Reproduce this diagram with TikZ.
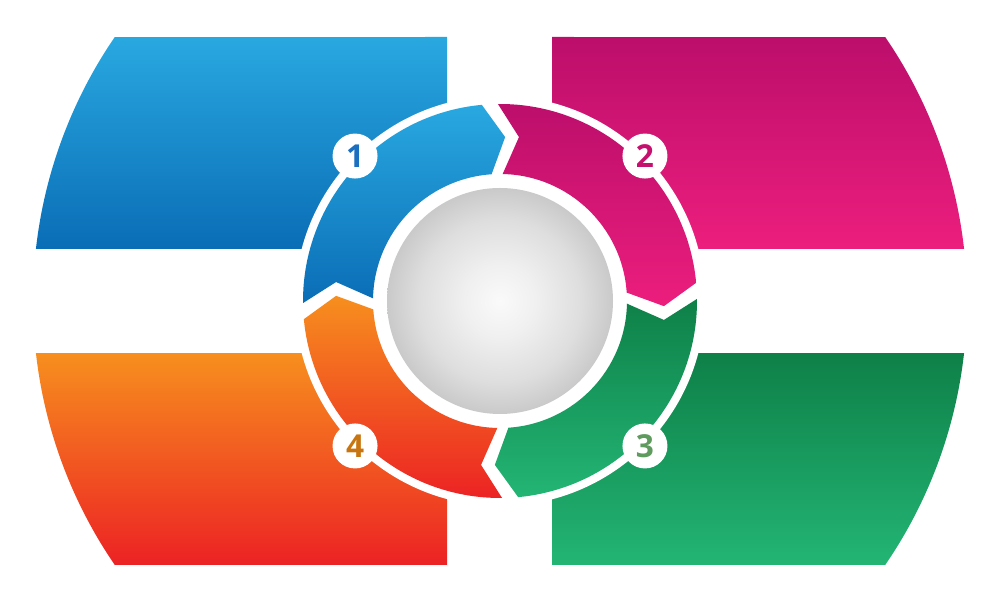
\documentclass[tikz,border=0pt]{standalone}
\usepackage{fontspec}
\newfontfamily\numfont{Open Sans}
\definecolor{bluetop}{HTML}{29A8E0}
\definecolor{bluebot}{HTML}{0A6DB6}
\definecolor{magtop}{HTML}{BC0E6B}
\definecolor{magbot}{HTML}{EC1E7D}
\definecolor{orgtop}{HTML}{F78F1E}
\definecolor{orgbot}{HTML}{EC2224}
\definecolor{grntop}{HTML}{0E8048}
\definecolor{grnbot}{HTML}{23B574}
\definecolor{numblue}{HTML}{1A6FC0}
\definecolor{nummag}{HTML}{C5106F}
\definecolor{numgrn}{HTML}{5F9A5F}
\definecolor{numorg}{HTML}{C87510}
\pgfdeclareradialshading{spheregray}{\pgfpoint{0bp}{0bp}}{%
  color(0bp)=(white!98!black); color(8bp)=(white!94!black);
  color(18bp)=(white!87!black); color(25bp)=(white!79!black);
  color(50bp)=(white!79!black)}
\tikzset{
  numc/.style={circle, fill=white, minimum size=13.5mm, inner sep=0pt,
    font=\numfont\bfseries\fontsize{27}{27}\selectfont},
}
\begin{document}
\begin{tikzpicture}[x=0.3mm,y=0.3mm]
\useasboundingbox (0,0) rectangle (1000,603);
\begin{scope}[shift={(500,302)}]
  % side panels
  \shade[top color=bluetop, bottom color=bluebot]
    (-53,52) -- (-53,264) -- (145.6:467) arc[start angle=145.6, end angle=173.6, radius=467] -- cycle;
  \shade[top color=magtop, bottom color=magbot]
    (52,52) -- (52,264) -- (34.4:467) arc[start angle=34.4, end angle=6.4, radius=467] -- cycle;
  \shade[top color=orgtop, bottom color=orgbot]
    (-53,-52) -- (-53,-264) -- (-145.6:467) arc[start angle=-145.6, end angle=-173.6, radius=467] -- cycle;
  \shade[top color=grntop, bottom color=grnbot]
    (52,-52) -- (52,-264) -- (-34.4:467) arc[start angle=-34.4, end angle=-6.4, radius=467] -- cycle;
  % white disk behind ring
  \fill[white] (0,0) circle (205);
  % ring segments (arrows, clockwise)
  \foreach \t/\ct/\cb in {180/bluetop/bluebot, 90/magtop/magbot, 0/grntop/grnbot, 270/orgtop/orgbot}{
    \pgfmathsetmacro{\h}{\t-90}
    \shade[top color=\ct, bottom color=\cb]
      ({\t+0.6}:197) arc[start angle={\t+0.6}, end angle={\h+5.3}, radius=197]
      -- ({\h-1.8}:164) -- ({\h+3.8}:127)
      arc[start angle={\h+3.8}, end angle={\t-1.2}, radius=127]
      -- ({\t-6.6}:165) -- cycle;
  }
  % central sphere
  \shade[shading=spheregray] (0,0) circle (113);
  % numbers
  \node[numc, text=numblue] (n1) at (135:205) {1};
  \node[numc, text=nummag] (n2) at (45:205) {2};
  \node[numc, text=numgrn] (n3) at (-45:205) {3};
  \node[numc, text=numorg] (n4) at (-135:205) {4};
\end{scope}
\end{tikzpicture}
\end{document}
